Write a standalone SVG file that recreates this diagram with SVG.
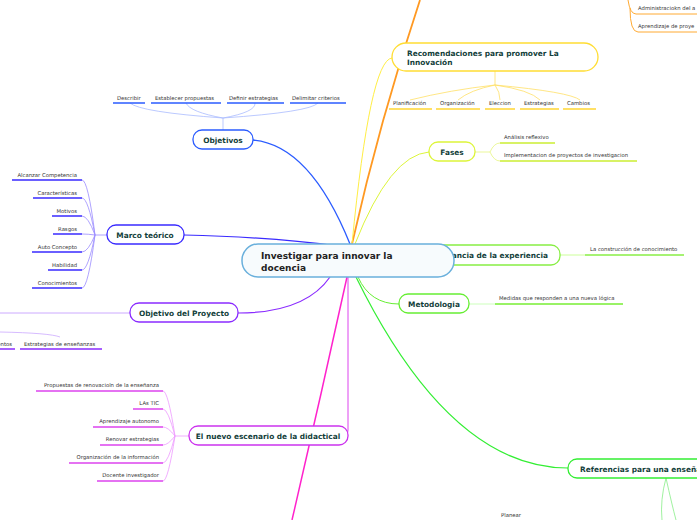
<svg xmlns="http://www.w3.org/2000/svg" width="697" height="520" viewBox="0 0 697 520">
<style>
text{font-family:"DejaVu Sans","Liberation Sans",sans-serif;}
.t{font-size:7.4px;font-weight:bold;fill:#12403a}
.s{font-size:5.3px;fill:#333}
.n{fill:#fff;stroke-width:1.3}
.c{fill:none}
</style>
<rect width="697" height="520" fill="#fff"/>
<g id="connectors" class="c" fill="none">
<path d="M352,244 Q380,120 420,0" stroke="#ff9922" stroke-width="1.8"/>
<path d="M628,0 Q630,14 636,14 H697 M630,8 Q630,32 638,32 H697" stroke="#ffaa33" stroke-width="1"/>
<path d="M352,244 Q370,60 392,58" stroke="#ffee44" stroke-width="1"/>
<path d="M495,71 V85 M495,85 Q450,90 410,100 M495,85 Q470,90 458,100 M495,85 Q500,92 500,100 M495,85 Q530,90 540,100 M495,85 Q570,92 580,100" stroke="#ffe066" stroke-width="0.8"/>
<path d="M389,109 H432 M436,109 H480 M485,109 H515 M520,109 H559 M563,109 H596" stroke="#ffd633" stroke-width="1.5"/>
<path d="M355,244 Q390,155 429,152" stroke="#ddf53a" stroke-width="1"/>
<path d="M475,152 H490 Q494,143 500,143 M490,152 Q494,161 500,161" stroke="#e6f580" stroke-width="0.8"/>
<path d="M500,143 H555 M500,161 H637" stroke="#ccee33" stroke-width="1.5"/>
<path d="M560,255 H585" stroke="#ccff99" stroke-width="1"/>
<path d="M585,255 H684" stroke="#88ee44" stroke-width="1.5"/>
<path d="M358,277 Q370,304 399,304" stroke="#66ee33" stroke-width="1"/>
<path d="M469,304 H495" stroke="#ccffbb" stroke-width="1"/>
<path d="M495,304 H623" stroke="#77ee33" stroke-width="1.5"/>
<path d="M356,277 Q450,468 568,468" stroke="#33ee33" stroke-width="1.2"/>
<path d="M666,478 Q660,500 662,520 M666,478 Q672,505 676,520" stroke="#88ee88" stroke-width="0.8"/>
<path d="M350,244 Q310,145 253,140" stroke="#2b5cff" stroke-width="1.3"/>
<path d="M223,130 V118 M223,118 Q140,112 130,103 M223,118 Q190,112 186,103 M223,118 Q256,112 255,103 M223,118 Q310,112 318,103" stroke="#aabbff" stroke-width="0.8"/>
<path d="M113,103 H145 M151,103 H221 M227,103 H284 M290,103 H346" stroke="#2b5cff" stroke-width="1.5"/>
<path d="M184,235 Q270,237 338,246" stroke="#3a2bff" stroke-width="1.2"/>
<path d="M107,235 H95 M95,235 Q88,180 82,180 M95,235 Q88,198 82,198 M95,235 Q88,216 82,216 M95,235 Q88,234 82,234 M95,235 Q88,252 82,252 M95,235 Q88,270 82,270 M95,235 Q88,288 82,288" stroke="#9a8cff" stroke-width="0.8"/>
<path d="M12,180 H82 M33,198 H82 M52,216 H82 M53,234 H82 M32,252 H82 M48,270 H82 M32,288 H82" stroke="#3a2bff" stroke-width="1.5"/>
<path d="M238,313 Q305,313 330,277" stroke="#8a2bff" stroke-width="1.2"/>
<path d="M130,313 H0" stroke="#ccaaff" stroke-width="1"/>
<path d="M0,332 Q50,333 60,337" stroke="#ccaaff" stroke-width="0.8"/>
<path d="M0,349 H15 M20,349 H102" stroke="#8a2bff" stroke-width="1.5"/>
<path d="M348,277 V430 Q348,436 342,436" stroke="#dd44ee" stroke-width="1"/>
<path d="M347,277 Q320,400 292,520" stroke="#ff22cc" stroke-width="1.5"/>
<path d="M189,436 H175 M175,436 Q168,391 163,391 M175,436 Q168,409 163,409 M175,436 Q168,427 163,427 M175,436 Q168,445 163,445 M175,436 Q168,463 163,463 M175,436 Q168,481 163,481" stroke="#ee99ff" stroke-width="0.8"/>
<path d="M36,391 H163 M133,409 H163 M93,427 H163 M100,445 H163 M69,463 H163 M97,481 H163" stroke="#dd44ee" stroke-width="1.5"/>
</g>
<g id="n-orange"><text class="s" x="638" y="10">Administraciokn del a</text><text class="s" x="638" y="28">Aprendizaje de proye</text></g>
<g id="n-recom"><rect class="n" x="392" y="43" width="206" height="28" rx="14" stroke="#ffdd33"/><text class="t" x="407" y="56">Recomendaciones para promover La</text><text class="t" x="407" y="65">Innovación</text>
<text class="s" x="393" y="105">Planificación</text><text class="s" x="440" y="105">Organización</text><text class="s" x="489" y="105">Eleccion</text><text class="s" x="524" y="105">Estrategias</text><text class="s" x="567" y="105">Cambios</text></g>
<g id="n-fases"><rect class="n" x="429" y="142" width="46" height="19" rx="9" stroke="#ddf53a"/><text class="t" x="452" y="155" text-anchor="middle">Fases</text>
<text class="s" x="504" y="139">Análisis reflexivo</text><text class="s" x="504" y="157">Implementacion de proyectos de investigacion</text></g>
<g id="n-import"><rect class="n" x="380" y="245" width="180" height="20" rx="9" stroke="#88ee44"/><text class="t" x="548" y="258" text-anchor="end">Importancia de la experiencia</text>
<text class="s" x="590" y="251">La construcción de conocimiento</text></g>
<g id="n-metod"><rect class="n" x="399" y="294" width="70" height="19" rx="9" stroke="#66ee33"/><text class="t" x="434" y="307" text-anchor="middle">Metodologia</text>
<text class="s" x="499" y="300">Medidas que responden a una nueva lógica</text></g>
<g id="n-ref"><rect class="n" x="568" y="459" width="150" height="19" rx="9" stroke="#33ee33"/><text class="t" x="580" y="472">Referencias para una enseñanza</text><text class="s" x="501" y="517">Planear</text></g>
<g id="n-objetivos"><rect class="n" x="193" y="130" width="60" height="19" rx="9" stroke="#2b5cff"/><text class="t" x="223" y="143" text-anchor="middle">Objetivos</text>
<text class="s" x="117" y="100">Describir</text><text class="s" x="155" y="100">Establecer propuestas</text><text class="s" x="229" y="100">Definir estrategias</text><text class="s" x="292" y="100">Delimitar criterios</text></g>
<g id="n-marco"><rect class="n" x="107" y="225" width="77" height="19" rx="9" stroke="#3a2bff"/><text class="t" x="145" y="238" text-anchor="middle">Marco teórico</text>
<g text-anchor="end"><text class="s" x="77" y="177">Alcanzar Competencia</text><text class="s" x="77" y="195">Características</text><text class="s" x="77" y="213">Motivos</text><text class="s" x="77" y="231">Rasgos</text><text class="s" x="77" y="249">Auto Concepto</text><text class="s" x="77" y="267">Habilidad</text><text class="s" x="77" y="285">Conocimientos</text></g></g>
<g id="n-proyecto"><rect class="n" x="130" y="303" width="108" height="19" rx="9" stroke="#8a2bff"/><text class="t" x="184" y="316" text-anchor="middle">Objetivo del Proyecto</text>
<text class="s" x="12" y="346" text-anchor="end">Fundamentos</text><text class="s" x="24" y="346">Estrategias de enseñanzas</text></g>
<g id="n-escenario"><rect class="n" x="189" y="426" width="159" height="19" rx="9" stroke="#cc33ee"/><text class="t" x="268" y="439" text-anchor="middle">El nuevo escenario de la didactical</text>
<g text-anchor="end"><text class="s" x="159" y="387">Propuestas de renovacioln de la enseñanza</text><text class="s" x="159" y="405">LAs TIC</text><text class="s" x="159" y="423">Aprendizaje autonomo</text><text class="s" x="159" y="441">Renovar estrategias</text><text class="s" x="159" y="459">Organización de la información</text><text class="s" x="159" y="477">Docente investigador</text></g></g>
<g id="n-center"><rect x="242" y="244" width="212" height="33" rx="16" fill="#f7fbfd" stroke="#6ab0dc" stroke-width="1.5"/><text x="261" y="259" style="font-size:9px;font-weight:bold;fill:#222">Investigar para innovar la</text><text x="261" y="271" style="font-size:9px;font-weight:bold;fill:#222">docencia</text></g>
</svg>
